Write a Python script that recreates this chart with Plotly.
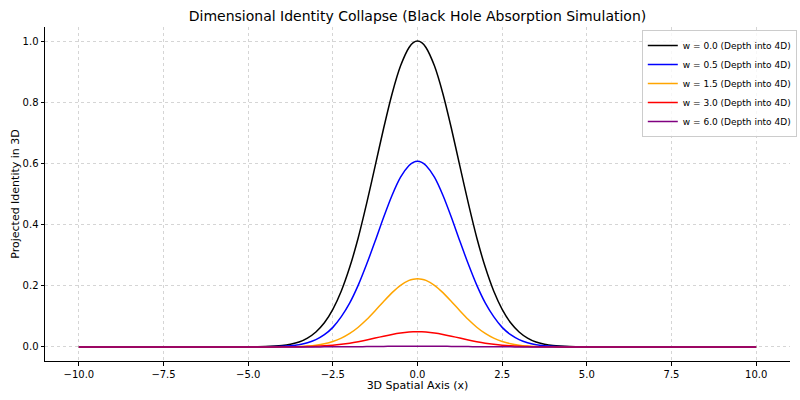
import plotly.graph_objects as go

x_vals = [-10, -6, -5, -4.5, -4, -3.75, -3.5, -3.25, -3, -2.75, -2.5, -2.25, -2, -1.75, -1.5, -1.25, -1, -0.75, -0.5, -0.25, -0.125,
          0, 0.125, 0.25, 0.5, 0.75, 1, 1.25, 1.5, 1.75, 2, 2.25, 2.5, 2.75, 3, 3.25, 3.5, 3.75, 4, 4.5, 5, 6, 10]

w0 = [0, 0, 0.0002, 0.0011, 0.0046, 0.0089, 0.016, 0.029, 0.049, 0.079, 0.123, 0.183, 0.261, 0.357, 0.470, 0.592, 0.715, 0.828, 0.919, 0.979, 0.995,
      1.0, 0.995, 0.979, 0.919, 0.828, 0.715, 0.592, 0.470, 0.357, 0.261, 0.183, 0.123, 0.079, 0.049, 0.029, 0.016, 0.0089, 0.0046, 0.0011, 0.0002, 0, 0]
w05 = [0, 0, 0.0001, 0.0004, 0.0019, 0.0039, 0.0075, 0.0137, 0.024, 0.040, 0.064, 0.099, 0.144, 0.202, 0.271, 0.346, 0.424, 0.496, 0.555, 0.593, 0.6036,
       0.607, 0.6036, 0.593, 0.555, 0.496, 0.424, 0.346, 0.271, 0.202, 0.144, 0.099, 0.064, 0.040, 0.024, 0.0137, 0.0075, 0.0039, 0.0019, 0.0004, 0.0001, 0, 0]
w15 = [0, 0, 0, 0.0001, 0.0003, 0.0007, 0.0015, 0.0031, 0.0058, 0.0104, 0.0177, 0.0286, 0.0440, 0.0644, 0.0895, 0.1183, 0.1486, 0.1775, 0.2015, 0.2175, 0.2216,
       0.223, 0.2216, 0.2175, 0.2015, 0.1775, 0.1486, 0.1183, 0.0895, 0.0644, 0.0440, 0.0286, 0.0177, 0.0104, 0.0058, 0.0031, 0.0015, 0.0007, 0.0003, 0.0001, 0, 0, 0]
w30 = [0, 0, 0, 0.0001, 0.0002, 0.0004, 0.0007, 0.0012, 0.0022, 0.0036, 0.0057, 0.0086, 0.0124, 0.0172, 0.0228, 0.0289, 0.0352, 0.0410, 0.0457, 0.0488, 0.0495,
       0.0498, 0.0495, 0.0488, 0.0457, 0.0410, 0.0352, 0.0289, 0.0228, 0.0172, 0.0124, 0.0086, 0.0057, 0.0036, 0.0022, 0.0012, 0.0007, 0.0004, 0.0002, 0.0001, 0, 0, 0]
w60 = [0, 0, 0, 0, 0, 0, 0, 0.0001, 0.0001, 0.0002, 0.0003, 0.0004, 0.0006, 0.0009, 0.0011, 0.0015, 0.0018, 0.0021, 0.0023, 0.0024, 0.0025,
       0.0025, 0.0025, 0.0024, 0.0023, 0.0021, 0.0018, 0.0015, 0.0011, 0.0009, 0.0006, 0.0004, 0.0003, 0.0002, 0.0001, 0.0001, 0, 0, 0, 0, 0, 0, 0]

series = [
    ("w = 0.0 (Depth into 4D)", w0, "black"),
    ("w = 0.5 (Depth into 4D)", w05, "blue"),
    ("w = 1.5 (Depth into 4D)", w15, "orange"),
    ("w = 3.0 (Depth into 4D)", w30, "red"),
    ("w = 6.0 (Depth into 4D)", w60, "purple"),
]

fig = go.Figure()
for name, ys, col in series:
    fig.add_trace(go.Scatter(x=x_vals, y=ys, mode="lines", name=name,
                             line=dict(color=col, width=1.5, shape="spline", smoothing=0.8)))

font = "DejaVu Sans, Arial, sans-serif"
fig.update_layout(
    width=800, height=400,
    margin=dict(l=45, r=10, t=27, b=39, autoexpand=False),
    paper_bgcolor="white", plot_bgcolor="white",
    font=dict(family=font, size=10, color="black"),
    title=dict(text="Dimensional Identity Collapse (Black Hole Absorption Simulation)",
               x=(45 + 790) / 2 / 800, xanchor="center", y=0.96, yanchor="middle",
               font=dict(size=14, family=font)),
    legend=dict(xref="container", yref="container", x=0.996, y=0.925, xanchor="right", yanchor="top",
                bgcolor="rgba(255,255,255,0.8)", bordercolor="#cccccc", borderwidth=1,
                font=dict(size=9, family=font), itemwidth=30, tracegroupgap=0),
    showlegend=True,
)
fig.update_xaxes(range=[-11, 11], tickvals=[-10, -7.5, -5, -2.5, 0, 2.5, 5, 7.5, 10],
                 ticktext=["−10.0", "−7.5", "−5.0", "−2.5", "0.0", "2.5", "5.0", "7.5", "10.0"],
                 showline=True, linecolor="black", linewidth=1, mirror=False,
                 ticks="outside", ticklen=3.5, tickcolor="black",
                 showgrid=True, gridcolor="#d5d5d5", griddash="dot", gridwidth=0.8, zeroline=False,
                 title=dict(text="3D Spatial Axis (x)", font=dict(size=11), standoff=1))
fig.update_yaxes(range=[-0.046, 1.046], tickvals=[0, 0.2, 0.4, 0.6, 0.8, 1.0],
                 ticktext=["0.0", "0.2", "0.4", "0.6", "0.8", "1.0"],
                 showline=True, linecolor="black", linewidth=1, mirror=False,
                 ticks="outside", ticklen=3.5, tickcolor="black",
                 showgrid=True, gridcolor="#d5d5d5", griddash="dot", gridwidth=0.8, zeroline=False,
                 title=dict(text="Projected Identity in 3D", font=dict(size=11), standoff=0))

fig.write_html("out.html")
